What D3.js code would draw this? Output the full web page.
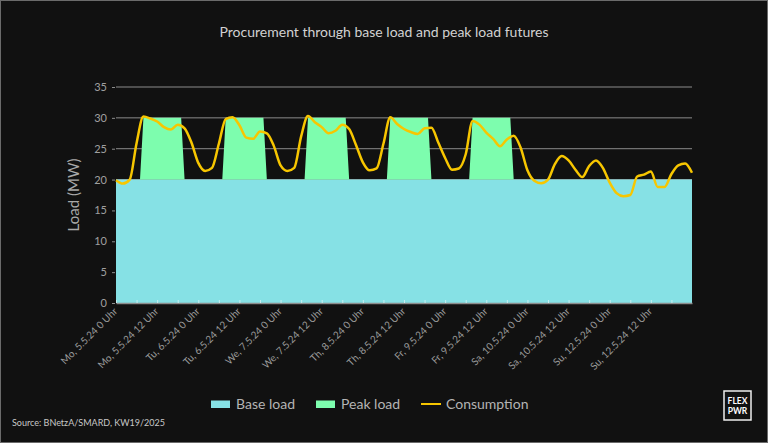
<!DOCTYPE html>
<html>
<head>
<meta charset="utf-8">
<script src="https://cdn.jsdelivr.net/npm/d3@7"></script>
<style>
  html, body { margin: 0; padding: 0; background: #111111; }
  #chart { width: 768px; height: 443px; }
  text { font-family: Lato, "Open Sans", sans-serif; }
</style>
</head>
<body>
<div id="chart"></div>
<script>
const title = "Procurement through base load and peak load futures";
const yTicks = [0, 5, 10, 15, 20, 25, 30, 35];
const xLabels = [
  "Mo, 5.5.24 0 Uhr", "Mo, 5.5.24 12 Uhr", "Tu, 6.5.24 0 Uhr", "Tu, 6.5.24 12 Uhr",
  "We, 7.5.24 0 Uhr", "We, 7.5.24 12 Uhr", "Th, 8.5.24 0 Uhr", "Th, 8.5.24 12 Uhr",
  "Fr, 9.5.24 0 Uhr", "Fr, 9.5.24 12 Uhr", "Sa, 10.5.24 0 Uhr", "Sa, 10.5.24 12 Uhr",
  "Su, 12.5.24 0 Uhr", "Su, 12.5.24 12 Uhr"
];

// hours since Mo 0 Uhr
const baseHours = [0, 168];
const baseValues = [20, 20];

const peakHours = [
  0, 7, 8, 19, 20,
  31, 32, 43, 44,
  55, 56, 67, 68,
  79, 80, 91, 92,
  103, 104, 115, 116,
  168
];
const peakValues = [
  0, 0, 10, 10, 0,
  0, 10, 10, 0,
  0, 10, 10, 0,
  0, 10, 10, 0,
  0, 10, 10, 0,
  0
];

// consumption, one reading every 2 hours
const consumptionStep = 2;
const consumption = [
  19.9, 19.35, 20.0, 25.9, 30.2, 29.9, 29.4, 28.5, 28.1, 28.9, 28.3, 26.0,
  22.7, 21.4, 21.9, 25.8, 29.8, 30.1, 28.8, 26.8, 26.6, 27.8, 27.5, 25.5,
  22.3, 21.4, 21.9, 27.0, 30.3, 29.3, 28.5, 27.5, 27.9, 28.9, 28.2, 25.6,
  22.8, 21.5, 21.8, 25.8, 30.1, 29.0, 28.2, 27.7, 27.4, 28.3, 28.4, 26.0,
  23.5, 21.6, 21.8, 24.1, 29.5, 28.9, 27.6, 26.6, 25.4, 26.5, 27.1, 25.2,
  21.5, 19.8, 19.4, 20.0, 22.5, 23.8, 23.1, 21.6, 20.4, 22.2, 23.1, 21.9,
  19.5, 17.8, 17.3, 17.5, 20.5, 20.8, 21.3, 18.8, 18.8, 20.9, 22.3, 22.6,
  21.1
];

const colors = { base: "#86e1e5", peak: "#7dfdae", line: "#f7c600" };

const W = 768, H = 443;
const margin = { top: 87, right: 76, bottom: 140, left: 116 };

const svg = d3.select('#chart').append('svg')
  .attr('width', W)
  .attr('height', H);

svg.append('rect')
  .attr('x', 0.5).attr('y', 0.5)
  .attr('width', W - 1).attr('height', H - 1)
  .attr('fill', '#111111')
  .attr('stroke', '#6b6b6b');

const x = d3.scaleLinear().domain([0, 168]).range([margin.left, W - margin.right]);
const y = d3.scaleLinear().domain([0, 35]).range([H - margin.bottom, margin.top]);

svg.append('text')
  .attr('x', W / 2).attr('y', 37)
  .attr('text-anchor', 'middle')
  .attr('fill', '#d2d2d2')
  .style('font-size', '14px')
  .text(title);

// grid
svg.append('g')
  .selectAll('line')
  .data(yTicks.filter(d => d > 0))
  .enter().append('line')
  .attr('x1', x(0)).attr('x2', x(168))
  .attr('y1', d => y(d)).attr('y2', d => y(d))
  .attr('stroke', '#8c8c8c')
  .attr('stroke-width', 1);

// base area
const baseData = baseHours.map((h, i) => ({ h, v: baseValues[i] }));
svg.append('path')
  .datum(baseData)
  .attr('fill', colors.base)
  .attr('d', d3.area().x(d => x(d.h)).y0(y(0)).y1(d => y(d.v)));

// peak area stacked on base
const peakData = peakHours.map((h, i) => ({ h, v: peakValues[i] }));
svg.append('path')
  .datum(peakData)
  .attr('fill', colors.peak)
  .attr('d', d3.area().x(d => x(d.h)).y0(y(20)).y1(d => y(20 + d.v)));

// consumption line
svg.append('path')
  .datum(consumption)
  .attr('fill', 'none')
  .attr('stroke', colors.line)
  .attr('stroke-width', 2.5)
  .attr('stroke-linejoin', 'round')
  .attr('d', d3.line()
    .x((d, i) => x(i * consumptionStep))
    .y(d => y(d))
    .curve(d3.curveMonotoneX));

// y axis
const yAxis = svg.append('g')
  .attr('transform', `translate(${margin.left - 1},0)`)
  .call(d3.axisLeft(y).tickValues(yTicks).tickSize(3).tickPadding(5));
yAxis.select('.domain').remove();
yAxis.selectAll('line').attr('stroke', '#8c8c8c');
yAxis.selectAll('text').attr('fill', '#a0a0a0').style('font-size', '11px')
  .style('font-family', 'Lato, sans-serif');

svg.append('text')
  .attr('transform', `translate(79,${y(17.5)}) rotate(-90)`)
  .attr('text-anchor', 'middle')
  .attr('fill', '#a8a8a8')
  .style('font-size', '15px')
  .text('Load (MW)');

// x axis
const xAxis = svg.append('g')
  .attr('transform', `translate(0,${y(0)})`)
  .call(d3.axisBottom(x).tickValues(d3.range(0, 168, 6)).tickSizeInner(-3).tickSizeOuter(0).tickFormat(''));
xAxis.select('.domain').attr('stroke', '#8c8c8c').attr('stroke-width', 1.5);
xAxis.selectAll('line').attr('stroke', '#c8eef0');

svg.append('g')
  .selectAll('text')
  .data(xLabels)
  .enter().append('text')
  .attr('transform', (d, i) => `translate(${x(i * 12) + 2},${y(0) + 9}) rotate(-45)`)
  .attr('text-anchor', 'end')
  .attr('fill', '#9a9a9a')
  .style('font-size', '10px')
  .text(d => d);

// legend
const legend = svg.append('g').attr('transform', 'translate(211,404)');
const items = [
  { label: 'Base load', type: 'rect', color: colors.base, x: 0 },
  { label: 'Peak load', type: 'rect', color: colors.peak, x: 105 },
  { label: 'Consumption', type: 'line', color: colors.line, x: 210 }
];
items.forEach(it => {
  const g = legend.append('g').attr('transform', `translate(${it.x},0)`);
  if (it.type === 'rect') {
    g.append('rect').attr('x', 0).attr('y', -3.5).attr('width', 19).attr('height', 7.5).attr('fill', it.color);
  } else {
    g.append('line').attr('x1', 0).attr('x2', 20).attr('y1', 0).attr('y2', 0)
      .attr('stroke', it.color).attr('stroke-width', 2);
  }
  g.append('text')
    .attr('x', 25).attr('y', 5)
    .attr('fill', '#b4b4b4')
    .style('font-size', '14px')
    .text(it.label);
});

svg.append('text')
  .attr('x', 12).attr('y', 426)
  .attr('fill', '#c8c8c8')
  .style('font-size', '9px')
  .text('Source: BNetzA/SMARD, KW19/2025');

// logo
const logo = svg.append('g').attr('transform', 'translate(724,391)');
logo.append('rect').attr('width', 27).attr('height', 29)
  .attr('fill', '#111111').attr('stroke', '#eeeeee').attr('stroke-width', 1.5);
logo.append('text').attr('x', 13.5).attr('y', 13).attr('text-anchor', 'middle')
  .attr('fill', '#ffffff').style('font-size', '8.5px').style('font-weight', 'bold').text('FLEX');
logo.append('text').attr('x', 13.5).attr('y', 23).attr('text-anchor', 'middle')
  .attr('fill', '#ffffff').style('font-size', '8.5px').style('font-weight', 'bold').text('PWR');
</script>
</body>
</html>
